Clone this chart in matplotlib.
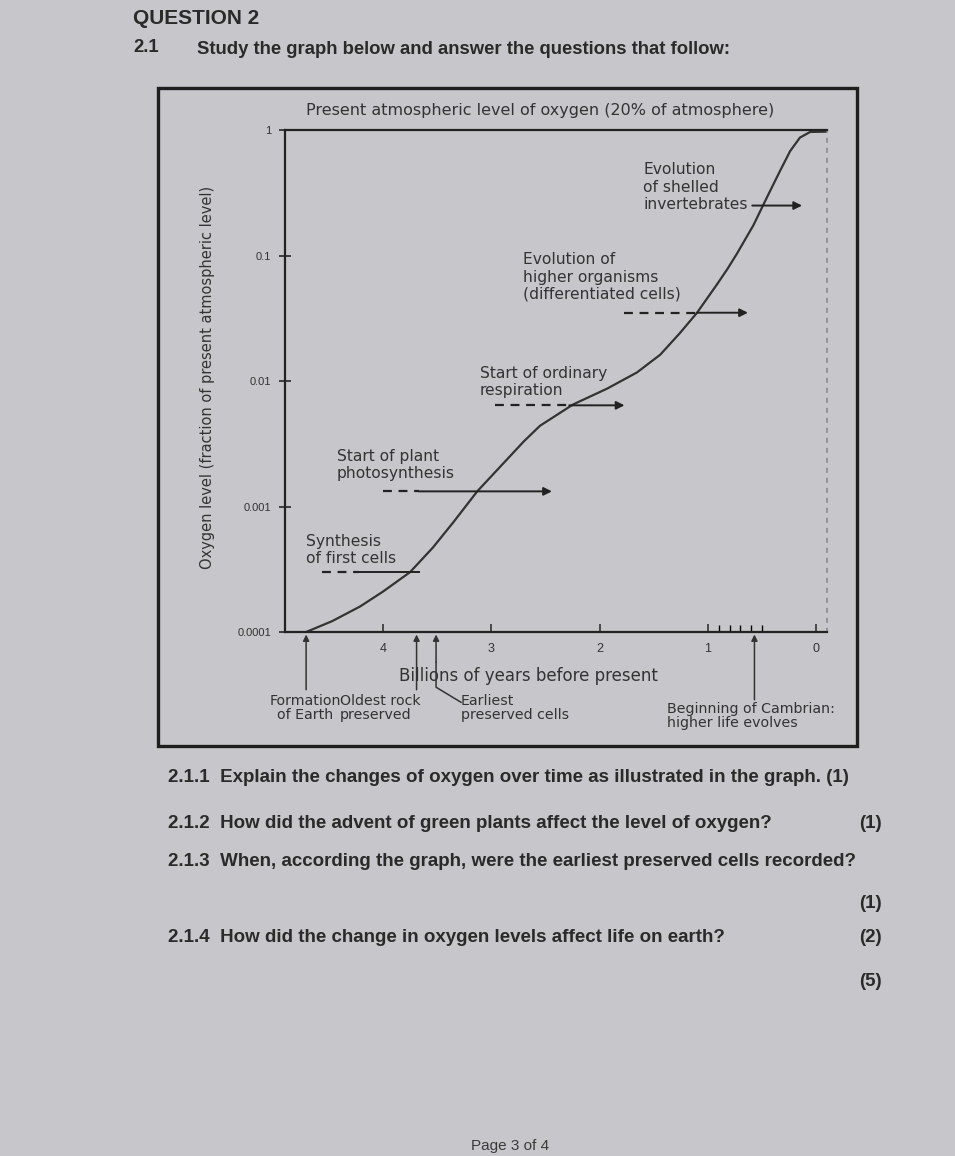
import matplotlib
matplotlib.use('Agg')
import matplotlib.pyplot as plt
from matplotlib.patches import Rectangle

# oxygen curve (billions of years before present, fraction of present level)
age_gyr = [4.71, 4.47, 4.21, 4.00, 3.75, 3.54, 3.35, 3.13, 2.70, 2.55, 2.245,
           1.93, 1.655, 1.44, 1.26, 1.10, 0.915, 0.82, 0.73, 0.58, 0.455, 0.335,
           0.24, 0.15, 0.055, -0.10]
oxygen_frac = [0.0001, 0.000122, 0.00016, 0.00021, 0.0003, 0.00047, 0.00075,
               0.00132, 0.0033, 0.0044, 0.0065, 0.0087, 0.0117, 0.0162, 0.024,
               0.035, 0.059, 0.078, 0.104, 0.174, 0.29, 0.47, 0.68, 0.87, 0.965, 0.97]

# horizontal event markers on the curve
marker_labels = ["Synthesis\nof first cells", "Start of plant\nphotosynthesis",
                 "Start of ordinary\nrespiration",
                 "Evolution of\nhigher organisms\n(differentiated cells)",
                 "Evolution\nof shelled\ninvertebrates"]
marker_levels = [0.0003, 0.00132, 0.0064, 0.035, 0.25]
marker_dash_from = [4.56, 4.00, 2.97, 1.77, None]
marker_solid_from = [4.22, 3.67, 2.28, 1.10, 0.59]
marker_to = [3.67, 2.44, 1.77, 0.63, 0.13]
marker_arrow = [False, True, True, True, True]

# events marked under the time axis
event_labels = ["Formation\nof Earth", "Oldest rock\npreserved",
                "Earliest\npreserved cells", "Beginning of Cambrian:\nhigher life evolves"]
event_ages = [4.71, 3.69, 3.51, 0.57]

x_ticks = [4, 3, 2, 1, 0]
x_minor = [0.9, 0.8, 0.7, 0.6, 0.5]
y_ticks = [0.0001, 0.001, 0.01, 0.1, 1]
y_ticklabels = ['0.0001', '0.001', '0.01', '0.1', '1']

W, H = 955, 1156
bg = '#c7c7cb'
ink = '#2a2a2a'
gink = '#333333'
plt.rcParams['font.family'] = ['Liberation Sans', 'DejaVu Sans']
gfont = ['DejaVu Sans']


def fx(px):
    return px / W


def fy(py):
    return 1 - py / H


fig = plt.figure(figsize=(W / 100, H / 100), dpi=100, facecolor=bg)

# page text
fig.text(fx(133), fy(18), "QUESTION 2", fontsize=15, weight='bold', color=ink, va='center')
fig.text(fx(133), fy(48), "2.1", fontsize=13.3, weight='bold', color=ink, va='center')
fig.text(fx(197), fy(49), "Study the graph below and answer the questions that follow:",
         fontsize=13.3, weight='bold', color=ink, va='center')

questions = [
    (778, "2.1.1  Explain the changes of oxygen over time as illustrated in the graph. (1)", None),
    (824, "2.1.2  How did the advent of green plants affect the level of oxygen?", "(1)"),
    (861, "2.1.3  When, according the graph, were the earliest preserved cells recorded?", None),
    (903, "", "(1)"),
    (938, "2.1.4  How did the change in oxygen levels affect life on earth?", "(2)"),
    (982, "", "(5)"),
]
for py, txt, mark in questions:
    if txt:
        fig.text(fx(168), fy(py), txt, fontsize=13.5, weight='bold', color=ink, va='center')
    if mark:
        fig.text(fx(870), fy(py), mark, fontsize=13.5, weight='bold', color=ink, va='center',
                 ha='center')
fig.text(fx(510), fy(1146), "Page 3 of 4", fontsize=11, color='#3a3a3a', va='center', ha='center')

# outer frame of the figure
fig.add_artist(Rectangle((fx(158), fy(746)), (857 - 158) / W, (746 - 88) / H,
                         transform=fig.transFigure, fill=False, lw=2.4, ec='#1e1e1e'))

ax = fig.add_axes([fx(285), fy(632), (827 - 285) / W, (632 - 130) / H])
ax.set_facecolor(bg)
ax.set_yscale('log')
ax.set_ylim(1e-4, 1)
ax.set_xlim(4.905, -0.10)

ax.plot(age_gyr, oxygen_frac, color=gink, lw=1.6, solid_capstyle='round',
        solid_joinstyle='round')

for lev, d0, s0, s1, arr in zip(marker_levels, marker_dash_from, marker_solid_from,
                                marker_to, marker_arrow):
    if d0 is not None:
        ax.plot([d0, s0], [lev, lev], color='#222222', lw=1.6, ls=(0, (4, 3)))
    if arr:
        ax.annotate('', xy=(s1, lev), xytext=(s0, lev),
                    arrowprops=dict(arrowstyle='-|>', color='#222222', lw=1.4,
                                    mutation_scale=12, shrinkA=0, shrinkB=0))
    else:
        ax.plot([s0, s1], [lev, lev], color='#222222', lw=1.4)

# marker texts (placed by layout)
text_kw = dict(fontsize=11.2, color=gink, linespacing=1.2, family=gfont)
fig.text(fx(306), fy(550), marker_labels[0], va='center', **text_kw)
fig.text(fx(337), fy(465), marker_labels[1], va='center', **text_kw)
fig.text(fx(480), fy(382), marker_labels[2], va='center', **text_kw)
fig.text(fx(523), fy(277), marker_labels[3], va='center', **text_kw)
fig.text(fx(643), fy(187), marker_labels[4], va='center', **text_kw)

fig.text(fx(540), fy(111), "Present atmospheric level of oxygen (20% of atmosphere)",
         fontsize=11.5, color=gink, ha='center', va='center', family=gfont)

# axes styling
for side in ['left', 'bottom', 'top']:
    ax.spines[side].set_color('#222222')
    ax.spines[side].set_linewidth(1.6)
ax.spines['right'].set_color('#8a8a8a')
ax.spines['right'].set_linestyle((0, (2, 4)))
ax.spines['right'].set_linewidth(1.2)

ax.set_yticks(y_ticks)
ax.set_yticklabels(y_ticklabels)
ax.yaxis.set_minor_locator(matplotlib.ticker.NullLocator())
ax.tick_params(axis='y', direction='inout', length=8, width=1.3, labelsize=8,
               colors=gink, pad=6)
ax.set_xticks(x_ticks)
ax.set_xticks(x_minor, minor=True)
ax.tick_params(axis='x', which='major', direction='in', length=6, width=1.2,
               labelsize=9, colors=gink, pad=8)
ax.tick_params(axis='x', which='minor', direction='in', length=5, width=1.0)

fig.text(fx(207), fy(377), "Oxygen level (fraction of present atmospheric level)",
         rotation=90, fontsize=10.5, color=gink, ha='center', va='center', family=gfont)
fig.text(fx(528), fy(676), "Billions of years before present", fontsize=12,
         color=gink, ha='center', va='center', family=gfont)

# event arrows below the time axis
trans = ax.get_xaxis_transform()
arrow_base = [-0.115, -0.115, None, -0.135]
for age, base in zip(event_ages, arrow_base):
    if base is not None:
        ax.annotate('', xy=(age, -0.005), xycoords=trans, xytext=(age, base), textcoords=trans,
                    arrowprops=dict(arrowstyle='-|>', color=gink, lw=1.1,
                                    mutation_scale=9, shrinkA=0, shrinkB=0),
                    annotation_clip=False)
# earliest preserved cells: short arrow with bent leader
ax.annotate('', xy=(event_ages[2], -0.005), xycoords=trans, xytext=(event_ages[2], -0.06),
            textcoords=trans, arrowprops=dict(arrowstyle='-|>', color=gink, lw=1.1,
                                              mutation_scale=9, shrinkA=0, shrinkB=0),
            annotation_clip=False)
ax.plot([event_ages[2], event_ages[2], 3.28], [-0.06, -0.11, -0.14], transform=trans,
        color=gink, lw=1.1, clip_on=False)

ev_kw = dict(fontsize=10.2, color=gink, linespacing=1.05, va='center', family=gfont)
fig.text(fx(305), fy(708), event_labels[0], ha='center', **ev_kw)
fig.text(fx(340), fy(708), event_labels[1], ha='left', **ev_kw)
fig.text(fx(461), fy(708), event_labels[2], ha='left', **ev_kw)
fig.text(fx(667), fy(716), event_labels[3], ha='left', **ev_kw)

fig.savefig('out.png', dpi=100, facecolor=bg)
